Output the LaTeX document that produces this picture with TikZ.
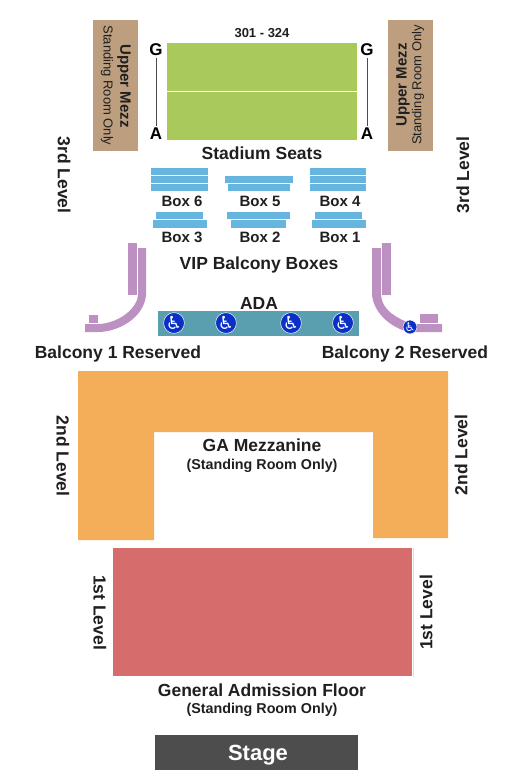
\documentclass[tikz,border=0pt]{standalone}
\usepackage{fontspec}
\setmainfont{Liberation Sans}
\newfontfamily\signfont{DejaVu Sans}
\definecolor{seatgreen}{HTML}{A9C95B}
\definecolor{mezztan}{HTML}{BD9F80}
\definecolor{boxblue}{HTML}{66B5DE}
\definecolor{balconypurple}{HTML}{BC90C0}
\definecolor{adateal}{HTML}{5A9FB0}
\definecolor{gaorange}{HTML}{F4AD58}
\definecolor{floorred}{HTML}{D66C6C}
\definecolor{stagegray}{HTML}{4D4D4D}
\definecolor{signblue}{HTML}{0A30C8}
\tikzset{
  title/.style={font=\fontsize{17.5}{19}\selectfont\bfseries, text=black!88, inner sep=0pt},
  boxlabel/.style={font=\fontsize{15}{17}\selectfont\bfseries, text=black!88, inner sep=0pt},
  small/.style={font=\fontsize{14.3}{16}\selectfont\bfseries, text=black!88, inner sep=0pt},
  thin label/.style={font=\fontsize{13}{15}\selectfont, text=black!88, inner sep=0pt},
  rowlabel/.style={font=\fontsize{17}{19}\selectfont\bfseries, text=black, inner sep=1.5pt},
  bar/.style={fill=boxblue},
  balcony/.style={fill=balconypurple},
  wheel/.style={circle, fill=signblue, draw=white, line width=0.5pt, text=white, inner sep=0pt, minimum size=20pt, font=\signfont\fontsize{18}{18}\selectfont},
}
\begin{document}
\begin{tikzpicture}[x=1pt,y=-1pt]
\useasboundingbox (0,0) rectangle (525,780);

% upper level
\fill[mezztan] (93,20) rectangle (138,151);
\fill[mezztan] (388,20) rectangle (433,151);
\node[boxlabel, rotate=-90] (mezzl) at (124,86) {Upper Mezz};
\node[thin label, rotate=-90] (mezzlsub) at (107,85.5) {Standing Room Only};
\node[boxlabel, rotate=90] (mezzr) at (403,85) {Upper Mezz};
\node[thin label, rotate=90] (mezzrsub) at (418,85) {Standing Room Only};

\fill[seatgreen] (167,43) rectangle (357,140);
\draw[white, line width=0.8pt] (167,91) -- (357,91);
\node[small, font=\fontsize{13}{15}\selectfont\bfseries] (range) at (262,33) {301 - 324};
\node[rowlabel] (gl) at (156,50) {G};
\node[rowlabel] (al) at (156,134) {A};
\node[rowlabel] (gr) at (367,50) {G};
\node[rowlabel] (ar) at (367,134) {A};
\draw[black!70, line width=0.8pt] (gl) -- (al);
\draw[black!70, line width=0.8pt] (gr) -- (ar);
\node[title] (stadium) at (262,153) {Stadium Seats};
\node[title, rotate=-90] (thirdl) at (64,175) {3rd Level};
\node[title, rotate=90] (thirdr) at (463,175) {3rd Level};

% boxes
\fill[bar] (151,168) rectangle (208,175);
\fill[bar] (151,176) rectangle (208,183);
\fill[bar] (151,184) rectangle (208,191);
\fill[bar] (225,176) rectangle (293,183);
\fill[bar] (228,184) rectangle (290,191);
\fill[bar] (310,168) rectangle (366,175);
\fill[bar] (310,176) rectangle (366,183);
\fill[bar] (310,184) rectangle (366,191);
\fill[bar] (156,212) rectangle (203,219);
\fill[bar] (153,220) rectangle (207,228);
\fill[bar] (227,212) rectangle (290,219);
\fill[bar] (231,220) rectangle (286,228);
\fill[bar] (315,212) rectangle (362,219);
\fill[bar] (312,220) rectangle (366,228);
\node[boxlabel] (box6) at (182,201) {Box 6};
\node[boxlabel] (box5) at (260,201) {Box 5};
\node[boxlabel] (box4) at (340,201) {Box 4};
\node[boxlabel] (box3) at (182,237) {Box 3};
\node[boxlabel] (box2) at (260,237) {Box 2};
\node[boxlabel] (box1) at (340,237) {Box 1};
\node[title] (vip) at (259,264.5) {VIP Balcony Boxes};

% balconies
\fill[balcony] (128,243) rectangle (137,295);
\fill[balcony] (146,248) -- (146,295) .. controls (144,318) and (118,332) .. (98,332) -- (85,332) -- (85,324) -- (98,324) .. controls (116,324) and (137,310) .. (138,295) -- (138,248) -- cycle;
\fill[balcony] (89,315) rectangle (98,323);
\fill[balcony] (382,243) rectangle (391,295);
\fill[balcony] (372,248) -- (372,295) .. controls (374,312) and (388,326) .. (408,332) -- (442,332) -- (442,324) -- (412,324) .. controls (396,318) and (382,310) .. (381,295) -- (381,248) -- cycle;
\fill[balcony] (420,314) rectangle (438,323);

\fill[adateal] (158,311) rectangle (359,336);
\node[title] (ada) at (259,303.5) {ADA};
\node[wheel] (seat1) at (174,323) {♿};
\node[wheel] (seat2) at (226,323) {♿};
\node[wheel] (seat3) at (291,323) {♿};
\node[wheel] (seat4) at (343,323) {♿};
\node[wheel, minimum size=13pt, font=\signfont\fontsize{12}{12}\selectfont] (seat5) at (410,327) {♿};
\node[title] (balc1) at (118,354) {Balcony 1 Reserved};
\node[title] (balc2) at (405,354) {Balcony 2 Reserved};

% mezzanine
\fill[gaorange] (78,371) -- (448,371) -- (448,538) -- (373,538) -- (373,432) -- (154,432) -- (154,540) -- (78,540) -- cycle;
\node[title] (ga) at (262,445) {GA Mezzanine};
\node[small] (gasub) at (262,465.5) {(Standing Room Only)};
\node[title, rotate=-90] (secondl) at (63,456) {2nd Level};
\node[title, rotate=90] (secondr) at (461,455) {2nd Level};

% floor
\fill[floorred] (113,548) rectangle (412,676);
\draw[black!12, line width=0.6pt] (413.2,548) -- (413.2,677);
\node[title, rotate=-90] (firstl) at (100,612.5) {1st Level};
\node[title, rotate=90] (firstr) at (426,612.5) {1st Level};
\node[title] (floor) at (262,690) {General Admission Floor};
\node[small] (floorsub) at (262,710) {(Standing Room Only)};

\fill[stagegray] (155,735) rectangle (358,770);
\node[text=white, inner sep=0pt, text height=16.4pt, text depth=0pt, font=\fontsize{22}{24}\selectfont\bfseries] (stage) at (258,752.7) {Stage};
\end{tikzpicture}
\end{document}
